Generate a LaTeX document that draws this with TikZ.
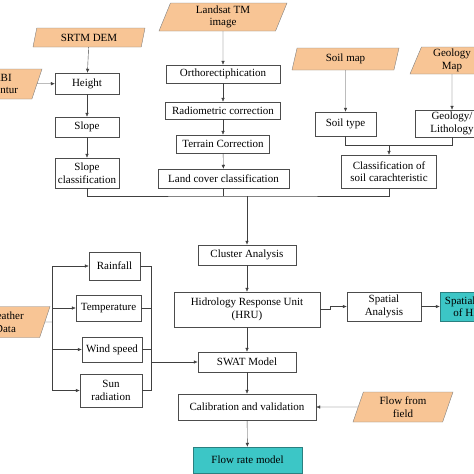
\documentclass[tikz,border=0pt]{standalone}
\usepackage{fontspec}
\setmainfont{Liberation Serif}
\usetikzlibrary{arrows.meta, shapes.geometric, positioning}

\definecolor{datafill}{HTML}{F8C595}
\definecolor{resfill}{HTML}{3CC6C6}
\definecolor{resline}{HTML}{2A8080}

\begin{document}
\begin{tikzpicture}[x=1pt, y=-1pt,
        font=\fontsize{11}{12.5}\selectfont,
        proc/.style={draw=black!70, fill=white, inner sep=0pt, align=center},
        result/.style={draw=resline, fill=resfill, inner sep=0pt, align=center},
        data/.style={trapezium, trapezium left angle=63, trapezium right angle=117,
            trapezium stretches body, draw=black!50, fill=datafill, inner sep=0pt, align=center},
        link/.style={draw=black!75},
        arr/.style={link, -{Latex[length=4pt,width=3.5pt]}}]
    \useasboundingbox (0,0) rectangle (474,474);
    \clip (0,0) rectangle (474,474);

    % inputs
    \node[data, minimum width=112, minimum height=19] (srtm) at (89,37.5) {SRTM DEM};
    \node[data, minimum width=79, minimum height=30] (rbi) at (2.5,84) {RBI\\Kontur};
    \node[data, minimum width=128, minimum height=28] (landsat) at (223,17) {Landsat TM\\image};
    \node[data, minimum width=107, minimum height=22] (soilmap) at (345.5,59) {Soil map};
    \node[data, minimum width=84, minimum height=27] (geomap) at (452,60.5) {Geology\\Map};
    \node[data, minimum width=89, minimum height=31] (weather) at (5.5,322) {Weather\\Data};
    \node[data, minimum width=100, minimum height=30] (flowfield) at (403,407) {Flow from\\field};

    % terrain column
    \node[proc, minimum width=64, minimum height=21] (height) at (87,83.5) {Height};
    \node[proc, minimum width=64, minimum height=20] (slope) at (87,127) {Slope};
    \node[proc, minimum width=64, minimum height=30] (slopecls) at (87,173) {Slope\\classification};

    % landsat column
    \node[proc, minimum width=114, minimum height=18] (ortho) at (223,74) {Orthorectiphication};
    \node[proc, minimum width=115, minimum height=17] (radio) at (223,110.5) {Radiometric correction};
    \node[proc, minimum width=93, minimum height=18] (terrain) at (223,144) {Terrain Correction};
    \node[proc, minimum width=131, minimum height=19] (landcover) at (223.5,178.5) {Land cover classification};

    % soil column
    \node[proc, minimum width=61, minimum height=24] (soiltype) at (345.5,124) {Soil type};
    \node[proc, minimum width=74, minimum height=27] (geolith) at (452,123.5) {Geology/\\Lithology};
    \node[proc, minimum width=95, minimum height=33] (soilcls) at (389,171.5) {Classification of\\soil carachteristic};

    % main column
    \node[proc, minimum width=98, minimum height=20] (cluster) at (247,255) {Cluster Analysis};
    \node[proc, minimum width=146, minimum height=35] (hru) at (247,309.5) {Hidrology Response Unit\\(HRU)};
    \node[proc, minimum width=74, minimum height=29] (spatial) at (384,306.5) {Spatial\\Analysis};
    \node[result, minimum width=62, minimum height=29] (hrumap) at (471,306.5) {Spatial map\\of HRU};
    \node[proc, minimum width=98, minimum height=20] (swat) at (247,362) {SWAT Model};
    \node[proc, minimum width=138, minimum height=26] (calib) at (247,407) {Calibration and validation};
    \node[result, minimum width=109, minimum height=26] (flowrate) at (247.5,460) {Flow rate model};

    % weather
    \node[proc, minimum width=51, minimum height=28] (rain) at (114.5,266) {Rainfall};
    \node[proc, minimum width=65, minimum height=26] (temp) at (108.5,308) {Temperature};
    \node[proc, minimum width=60, minimum height=25] (wind) at (112,349.5) {Wind speed};
    \node[proc, minimum width=62, minimum height=33] (sun) at (111,390.5) {Sun\\radiation};

    \coordinate (bus) at (247,196);
    \coordinate (soiljoin) at (389,145);
    \coordinate (lbus) at (52,322);
    \coordinate (rbus) at (151,362);

    % connectors
    \draw[arr] (srtm) -- (height);
    \draw[arr] (rbi) -- (height);
    \draw[arr] (height) -- (slope);
    \draw[arr] (slope) -- (slopecls);
    \draw[arr] (landsat) -- (ortho);
    \draw[arr] (ortho) -- (radio);
    \draw[arr] (radio) -- (terrain);
    \draw[arr] (terrain) -- (landcover);
    \draw[arr] (soilmap) -- (soiltype);
    \draw[arr] (geomap) -- (geolith);
    \draw[link] (soiltype.south) |- (soiljoin);
    \draw[link] (geolith.south) |- (soiljoin);
    \draw[arr] (soiljoin) -- (soilcls.north);
    \draw[link] (slopecls.south) |- (bus) -| (soilcls.south);
    \draw[link] (landcover.south) -- (landcover.south |- bus);
    \draw[arr, semithick] (bus) -- (cluster.north);
    \draw[arr] (cluster) -- (hru);
    \draw[arr] (hru.east) -- ++(10,0) |- (spatial.west);
    \draw[arr] (spatial) -- (hrumap);
    \draw[arr] (hru) -- (swat);
    \draw[arr] (swat) -- (calib);
    \draw[arr] (flowfield) -- (calib);
    \draw[arr] (calib) -- (flowrate);
    \draw[link] (weather.east) -- (lbus);
    \foreach \n in {rain, temp, wind, sun}
        \draw[arr] (lbus) |- (\n.west);
    \foreach \n in {rain, temp, wind, sun}
        \draw[link] (\n.east) -| (rbus);
    \draw[arr, semithick] (rbus) -- (swat.west);
\end{tikzpicture}
\end{document}
